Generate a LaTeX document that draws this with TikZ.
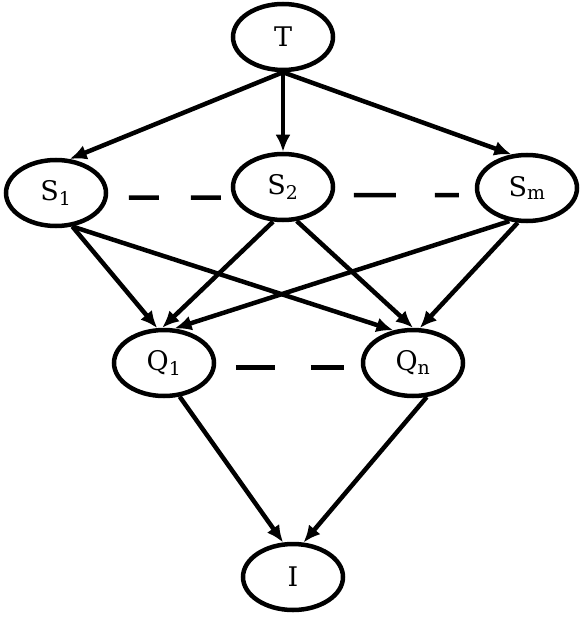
\documentclass[tikz,border=0pt]{standalone}
\usepackage{fontspec}
\setmainfont{DejaVu Serif}
\usepackage{tikz}
\usetikzlibrary{shapes,arrows.meta,positioning}

\begin{document}
\begin{tikzpicture}[x=1pt, y=-1pt,
        varnode/.style={ellipse, draw=black, line width=4.5pt, minimum width=100pt, minimum height=66pt, inner sep=0pt, font=\fontsize{27}{30}\selectfont},
        flow/.style={-{Latex[length=17pt,width=15pt]}, line width=4.5pt},
        gapline/.style={line width=4.5pt}]
        \useasboundingbox (0,0) rectangle (582,617);

        % Top node
        \node[varnode] (t) at (283,37) {T};

        % S nodes
        \node[varnode] (s1) at (56,193) {S\textsubscript{1}};
        \node[varnode] (s2) at (283,187) {S\textsubscript{2}};
        \node[varnode] (sm) at (527,188) {S\textsubscript{m}};

        % Q nodes
        \node[varnode] (q1) at (164,363) {Q\textsubscript{1}};
        \node[varnode] (qn) at (413,363) {Q\textsubscript{n}};

        % Bottom node
        \node[varnode] (i) at (293,577) {I};

        % Connections
        \draw[flow] (t.south) -- (s1.68);
        \draw[flow] (t.south) -- (s2.north);
        \draw[flow] (t.south) -- (sm.115);

        \draw[flow] (s1.-64) -- (q1.101);
        \draw[flow] (s1.-64) -- (qn.121);
        \draw[flow] (s2.-106) -- (q1.93);
        \draw[flow] (s2.-68) -- (qn.north);
        \draw[flow] (sm.-118) -- (q1.73);
        \draw[flow] (sm.-105) -- (qn.79);

        \draw[flow] (q1.-65) -- (i.106);
        \draw[flow] (qn.-68) -- (i.73);

        % Dashed gaps
        \draw[gapline, dash pattern=on 30pt off 32pt, shorten <=21pt, shorten >=11pt] (s1.-5) -- (s2.192);
        \draw[gapline, dash pattern=on 42pt off 39pt, shorten <=20pt, shorten >=17pt] (s2.-9) -- (sm.188);
        \draw[gapline, dash pattern=on 39pt off 36pt, shorten <=20pt, shorten >=17pt] (q1.-5) -- (qn.185);
    \end{tikzpicture}
\end{document}
